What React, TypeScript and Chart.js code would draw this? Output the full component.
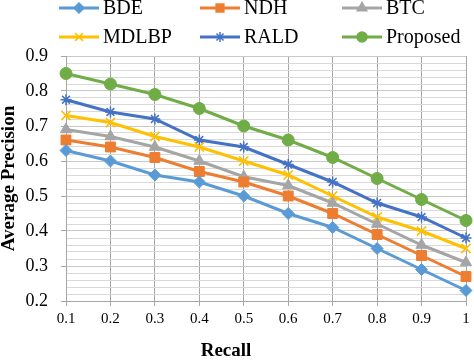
import React, { useEffect, useRef } from 'react';
import { Chart, registerables } from 'chart.js';
import { drawPoint } from 'chart.js/helpers';

Chart.register(...registerables);

const recallLabels = ['0.1', '0.2', '0.3', '0.4', '0.5', '0.6', '0.7', '0.8', '0.9', '1'];
const bde = [0.63, 0.60, 0.56, 0.54, 0.50, 0.45, 0.41, 0.35, 0.29, 0.23];
const ndh = [0.66, 0.64, 0.61, 0.57, 0.54, 0.50, 0.45, 0.39, 0.33, 0.27];
const btc = [0.69, 0.67, 0.64, 0.60, 0.555, 0.53, 0.48, 0.42, 0.36, 0.31];
const mdlbp = [0.73, 0.71, 0.67, 0.64, 0.60, 0.56, 0.50, 0.44, 0.40, 0.35];
const rald = [0.775, 0.74, 0.72, 0.66, 0.64, 0.59, 0.54, 0.48, 0.44, 0.38];
const proposed = [0.85, 0.82, 0.79, 0.75, 0.70, 0.66, 0.61, 0.55, 0.49, 0.43];

const seriesNames = ['BDE', 'NDH', 'BTC', 'MDLBP', 'RALD', 'Proposed'];
const seriesValues = [bde, ndh, btc, mdlbp, rald, proposed];
const seriesColors = ['#5B9BD5', '#ED7D31', '#A5A5A5', '#FFC000', '#4472C4', '#70AD47'];
const seriesMarkers = ['rectRot', 'rect', 'triangle', 'crossRot', 'star', 'circle'];
const markerRadius = [6, 7, 6.5, 6.5, 5.5, 6];
const legendRadius = [5, 5.5, 5.5, 5.5, 5, 5];

const yMin = 0.2;
const yMax = 0.9;
const yMinorStep = 0.02;
const xTitle = 'Recall';
const yTitle = 'Average Precision';

const FONT = '"Liberation Serif", "Times New Roman", serif';

const isMajor = (v: number) => Math.abs(v * 10 - Math.round(v * 10)) < 1e-6;

const legendPlugin = {
  id: 'excelLegend',
  afterDraw(chart: any) {
    const ctx = chart.ctx as CanvasRenderingContext2D;
    const cols = [59, 200, 342];
    const rows = [8, 37];
    chart.data.datasets.forEach((ds: any, i: number) => {
      const x0 = cols[i % 3];
      const y = rows[Math.floor(i / 3)];
      ctx.save();
      ctx.strokeStyle = ds.borderColor;
      ctx.lineWidth = 3;
      ctx.beginPath();
      ctx.moveTo(x0, y);
      ctx.lineTo(x0 + 40, y);
      ctx.stroke();
      ctx.fillStyle = ds.pointBackgroundColor;
      ctx.strokeStyle = ds.pointBorderColor;
      ctx.lineWidth = 1.5;
      drawPoint(ctx, { pointStyle: ds.pointStyle, radius: legendRadius[i], rotation: 0, borderWidth: 1.5 } as any, x0 + 20, y);
      ctx.fillStyle = '#000';
      ctx.font = `20px ${FONT}`;
      ctx.textAlign = 'left';
      ctx.textBaseline = 'middle';
      ctx.fillText(ds.label, x0 + 44, y + 1);
      ctx.restore();
    });
    ctx.save();
    ctx.fillStyle = '#000';
    ctx.font = `bold 19px ${FONT}`;
    ctx.textAlign = 'center';
    ctx.textBaseline = 'middle';
    ctx.fillText(xTitle, 226, 351);
    ctx.restore();
  },
};

export default function App() {
  const canvasRef = useRef<HTMLCanvasElement | null>(null);

  useEffect(() => {
    document.body.style.margin = '0';
    const canvas = canvasRef.current;
    if (!canvas) return;
    const chart = new Chart(canvas, {
      type: 'line',
      data: {
        labels: recallLabels,
        datasets: seriesNames.map((name, i) => ({
          label: name,
          data: seriesValues[i],
          borderColor: seriesColors[i],
          backgroundColor: seriesColors[i],
          pointBackgroundColor: seriesColors[i],
          pointBorderColor: seriesColors[i],
          pointStyle: seriesMarkers[i] as any,
          pointRadius: markerRadius[i],
          pointBorderWidth: seriesMarkers[i] === 'crossRot' || seriesMarkers[i] === 'star' ? 1.5 : 1,
          borderWidth: 3,
          tension: 0,
          fill: false,
        })),
      },
      plugins: [legendPlugin],
      options: {
        responsive: false,
        animation: false,
        events: [],
        layout: { padding: { top: 56, right: 7, left: 0, bottom: 0 } },
        plugins: {
          legend: { display: false },
          tooltip: { enabled: false },
          title: { display: false },
        },
        scales: {
          x: {
            type: 'category',
            offset: false,
            afterFit: (scale: any) => {
              scale.height = 59;
            },
            grid: {
              color: '#A6A6A6',
              lineWidth: 1,
              drawTicks: true,
              tickLength: 5,
              tickColor: '#A6A6A6',
            },
            border: { color: '#A6A6A6', width: 1 },
            ticks: {
              color: '#000',
              font: { family: FONT, size: 15 },
              padding: 4,
              maxRotation: 0,
              autoSkip: false,
            },
          },
          y: {
            type: 'linear',
            min: yMin,
            max: yMax,
            afterFit: (scale: any) => {
              scale.width = 66;
            },
            grid: {
              color: (c: any) => (isMajor(c.tick?.value ?? 0) ? '#C8C8C8' : '#D9D9D9'),
              lineWidth: 1,
              drawTicks: true,
              tickLength: 5,
              tickColor: (c: any) => (isMajor(c.tick?.value ?? 0) ? '#A6A6A6' : 'rgba(0,0,0,0)'),
            },
            border: { color: '#A6A6A6', width: 1 },
            ticks: {
              stepSize: yMinorStep,
              autoSkip: false,
              color: '#000',
              font: { family: FONT, size: 18 },
              padding: 13,
              callback: (v: any) => (isMajor(Number(v)) ? Number(v).toFixed(1) : ''),
            },
            title: {
              display: true,
              text: yTitle,
              color: '#000',
              font: { family: FONT, size: 19, weight: 'bold', lineHeight: 1 },
              padding: { top: 0, bottom: 0 },
            },
          },
        },
      },
    });
    return () => chart.destroy();
  }, []);

  return (
    <div style={{ width: 474, height: 360, background: '#fff' }}>
      <canvas ref={canvasRef} width={474} height={360} style={{ display: 'block' }} />
    </div>
  );
}
